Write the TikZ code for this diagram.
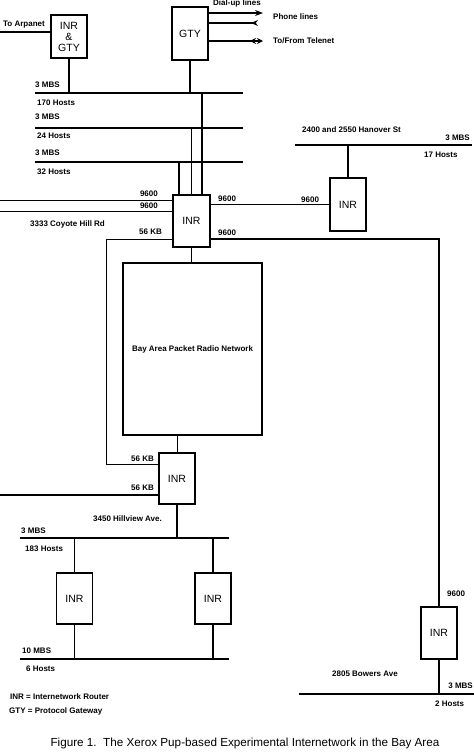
\documentclass[tikz,border=0pt]{standalone}
\usepackage{fontspec}
\setmainfont{Liberation Sans}
\usetikzlibrary{arrows.meta}

\begin{document}
\begin{tikzpicture}[x=1pt,y=-1pt,
  box/.style={draw, line width=1.6pt, inner sep=0pt, minimum width=36pt, align=center, font=\fontsize{10.5}{11}\selectfont},
  bus/.style={line width=2.8pt},
  drop/.style={line width=1.8pt},
  link/.style={line width=1pt},
  lbl/.style={inner sep=0pt, anchor=west, font=\fontsize{8}{9}\selectfont\bfseries}]
\useasboundingbox (0,0) rectangle (474,756);
% routers and gateways
\node[box, minimum height=43pt] (inrgty) at (69,36.5) {INR\\\&\\GTY};
\node[box, minimum height=53pt] (gty) at (190,33.5) {GTY};
\node[box, minimum width=37pt, minimum height=52pt] (inrc) at (191.5,221) {INR};
\node[box, minimum height=53pt] (inrh) at (348,204.5) {INR};
\node[box, minimum height=52pt] (inrb) at (439,633) {INR};
\node[box, minimum height=51pt] (inrv) at (177,478.5) {INR};
\node[box, minimum height=51pt] (inrl) at (74.5,598.5) {INR};
\node[box, minimum height=51pt] (inrr) at (213,598.5) {INR};
\node[draw, line width=1.3pt, minimum width=139pt, minimum height=172pt, font=\fontsize{8}{9}\selectfont\bfseries] (radio) at (192.5,349) {Bay Area Packet Radio Network};
% ethernets
\coordinate (busa-w) at (35,93); \coordinate (busa-e) at (243,93);
\coordinate (busb-w) at (35,128); \coordinate (busb-e) at (243,128);
\coordinate (busc-w) at (35,162); \coordinate (busc-e) at (243,162);
\coordinate (bush-w) at (295,145); \coordinate (bush-e) at (472,145);
\coordinate (busd-w) at (20,538); \coordinate (busd-e) at (229,538);
\coordinate (buse-w) at (20,659); \coordinate (buse-e) at (229,659);
\coordinate (busf-w) at (299,694); \coordinate (busf-e) at (474,694);
\foreach \b in {busa,busb,busc,bush,busd,buse,busf}
  \draw[bus] (\b-w) -- (\b-e);
\draw[drop] (inrgty.south) -- (inrgty.south |- busa-w);
\draw[drop] (gty.south) -- (gty.south |- busa-w);
\foreach \s/\b in {10.5/busa, 0/busb, -12.5/busc} {
  \coordinate (up) at ([xshift=\s pt]inrc.north);
  \draw[drop] (up) -- (up |- \b-w);
}
\draw[drop] (inrh.north) -- (inrh.north |- bush-w);
\draw[drop] (inrv.south) -- (inrv.south |- busd-w);
\draw[drop] (inrb.south) -- (inrb.south |- busf-w);
\foreach \n in {inrl,inrr} {
  \draw[drop] (\n.north) -- (\n.north |- busd-w);
  \draw[drop] (\n.south) -- (\n.south |- buse-w);
}
% phone lines
\coordinate (dial) at (263,13);
\coordinate (phone) at (258,23);
\coordinate (telenet) at (263,41);
\draw[link, line width=1.2pt, -{Stealth[length=8pt,width=6pt]}] (dial -| gty.east) -- (dial);
\draw[link, line width=1.2pt, -{Stealth[length=7pt,width=6pt,reversed]}] (phone -| gty.east) -- (phone);
\draw[link, line width=1.2pt, -{Stealth[length=6pt,width=6pt,reversed,sep=1pt]Stealth[length=6pt,width=6pt]}] (telenet -| gty.east) -- (telenet);
% leased lines
\coordinate (arpa) at (0,32);
\coordinate (wa) at (0,200);
\coordinate (wb) at (0,211);
\coordinate (wc) at (0,495);
\coordinate (kb) at (106,464);
\draw[link, line width=1.3pt] (arpa) -- (arpa -| inrgty.west);
\draw[link] (wa) -- (wa -| inrc.west);
\draw[link] (wb) -- (wb -| inrc.west);
\draw[link, line width=1.3pt] (wc) -- (wc -| inrv.west);
\draw[link] (inrh.west) -- (inrh.west -| inrc.east);
\draw[link, line width=1.3pt] ([yshift=-18pt]inrc.east) -| (inrb.north);
\draw[link] ([yshift=-18pt]inrc.west) -| (kb) -- (kb -| inrv.west);
\draw[link] (inrc.south) -- (inrc.south |- radio.north);
\draw[link] (inrv.north |- radio.south) -- (inrv.north);
% labels
\node[lbl] (l-arpa) at (3,25) {To Arpanet};
\node[lbl] (l-dial) at (213,3) {Dial-up lines};
\node[lbl] (l-phone) at (273,17) {Phone lines};
\node[lbl] (l-telenet) at (273,41) {To/From Telenet};
\node[lbl] (l-a1) at (35,85) {3 MBS};
\node[lbl] (l-a2) at (37,103) {170 Hosts};
\node[lbl] (l-b1) at (35,117) {3 MBS};
\node[lbl] (l-b2) at (37,136) {24 Hosts};
\node[lbl] (l-c1) at (35,153) {3 MBS};
\node[lbl] (l-c2) at (37,172) {32 Hosts};
\node[lbl] (l-h0) at (302,130) {2400 and 2550 Hanover St};
\node[lbl, anchor=east] (l-h1) at (470,138) {3 MBS};
\node[lbl] (l-h2) at (424,155) {17 Hosts};
\node[lbl, anchor=east] (l-wa) at (158,194) {9600};
\node[lbl, anchor=east] (l-wb) at (158,206) {9600};
\node[lbl] (l-coyote) at (30,224) {3333 Coyote Hill Rd};
\node[lbl] (l-kb1) at (139,232) {56 KB};
\node[lbl] (l-ea) at (218,199) {9600};
\node[lbl] (l-eb) at (218,233) {9600};
\node[lbl] (l-h3) at (301,200) {9600};
\node[lbl] (l-kb2) at (131,459) {56 KB};
\node[lbl] (l-kb3) at (131,488) {56 KB};
\node[lbl] (l-hill) at (93,519) {3450 Hillview Ave.};
\node[lbl] (l-d1) at (21,531) {3 MBS};
\node[lbl] (l-d2) at (25,549) {183 Hosts};
\node[lbl] (l-e1) at (22,651) {10 MBS};
\node[lbl] (l-e2) at (26,669) {6 Hosts};
\node[lbl] (l-b9) at (447,594) {9600};
\node[lbl] (l-bowers) at (332,674) {2805 Bowers Ave};
\node[lbl, anchor=east] (l-f1) at (473,686) {3 MBS};
\node[lbl] (l-f2) at (435,704) {2 Hosts};
\node[lbl] (key1) at (10,697) {INR = Internetwork Router};
\node[lbl] (key2) at (9,711) {GTY = Protocol Gateway};
\node[inner sep=0pt, font=\fontsize{11.7}{13}\selectfont] (caption) at (245,743) {Figure 1.~~The Xerox Pup-based Experimental Internetwork in the Bay Area};
\end{tikzpicture}
\end{document}
